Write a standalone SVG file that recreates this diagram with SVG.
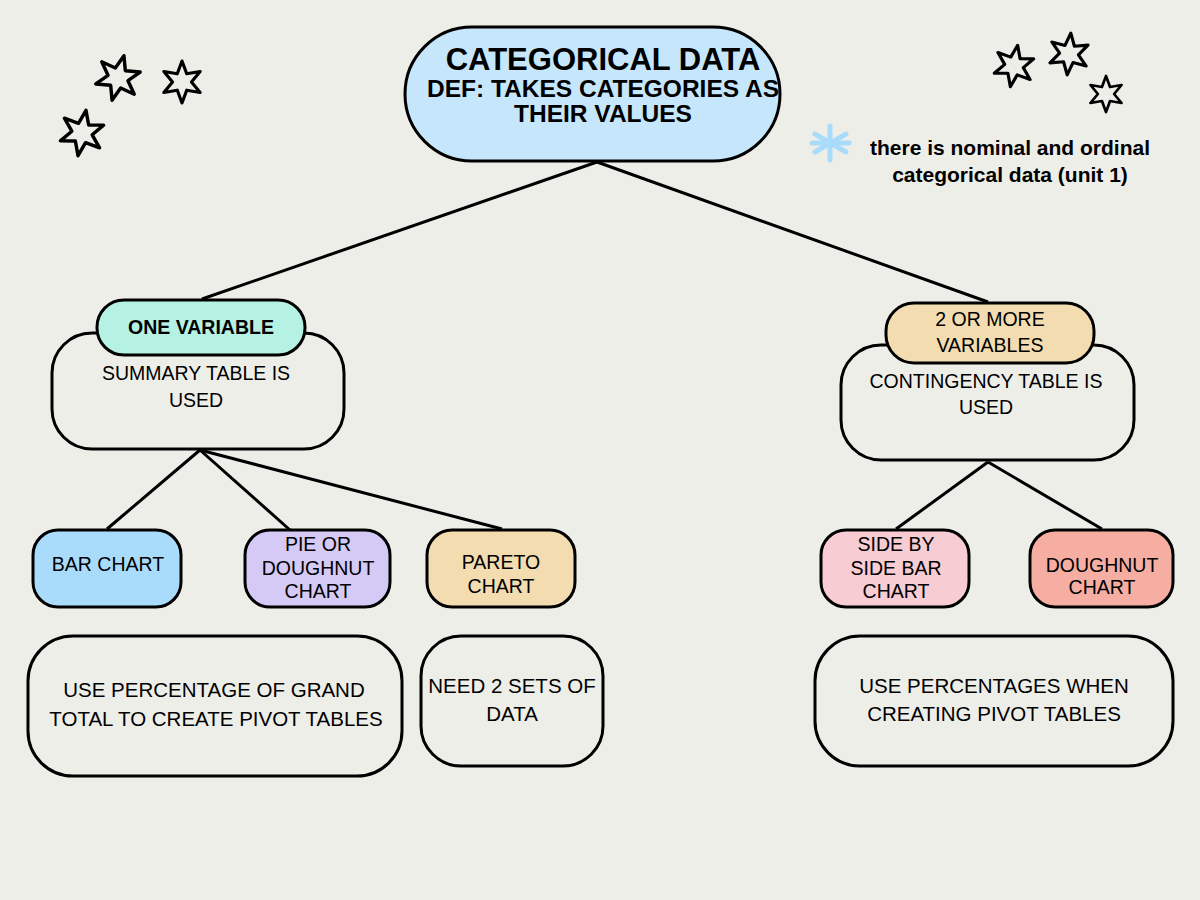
<svg xmlns="http://www.w3.org/2000/svg" width="1200" height="900" viewBox="0 0 1200 900">
<defs>
<style>
.b{stroke:#000;stroke-width:3;}
.t{font-family:"Liberation Sans",Arial,sans-serif;font-size:19.5px;text-anchor:middle;fill:#000;}
.h{font-weight:bold;}
.c{stroke:#000;stroke-width:3;fill:none;}
.s{fill:none;stroke:#000;stroke-width:3;stroke-linejoin:round;}
</style>
<polygon id="star" points="0,-20 4.5,-7.8 17.3,-10 9,0 17.3,10 4.5,7.8 0,20 -4.5,7.8 -17.3,10 -9,0 -17.3,-10 -4.5,-7.8"/>
</defs>
<rect width="1200" height="900" fill="#eeeee9"/>
<g id="stars">
<use href="#star" class="s" transform="translate(118,78) rotate(15) scale(1.15)"/>
<use href="#star" class="s" transform="translate(182,82) scale(1.05)"/>
<use href="#star" class="s" transform="translate(82,133) rotate(10) scale(1.15)"/>
<use href="#star" class="s" transform="translate(1014,66) rotate(10) scale(1.05)"/>
<use href="#star" class="s" transform="translate(1069,54) rotate(5) scale(1.05)"/>
<use href="#star" class="s" transform="translate(1106,94) scale(0.9)"/>
</g>
<g id="asterisk" stroke="#a9dcfb" stroke-width="5" stroke-linecap="round">
<line x1="830" y1="126" x2="830" y2="160"/><line x1="815" y1="134" x2="846" y2="152"/><line x1="815" y1="152" x2="846" y2="134"/><line x1="812" y1="143" x2="849" y2="143"/>
</g>
<g id="connectors">
<line class="c" x1="597" y1="162" x2="202" y2="299"/>
<line class="c" x1="597" y1="162" x2="988" y2="302"/>
<line class="c" x1="200" y1="450" x2="107" y2="529"/>
<line class="c" x1="200" y1="450" x2="290" y2="530"/>
<line class="c" x1="200" y1="450" x2="502" y2="529"/>
<line class="c" x1="988" y1="462" x2="896" y2="529"/>
<line class="c" x1="988" y1="462" x2="1102" y2="529"/>
</g>
<g id="root"><rect class="b" x="405" y="27" width="375" height="134" rx="67" fill="#c5e6fb"/>
<text class="t h" x="603" y="70" style="font-size:31px">CATEGORICAL DATA</text>
<text class="t h" x="603" y="97" style="font-size:24.5px">DEF: TAKES CATEGORIES AS</text>
<text class="t h" x="603" y="122" style="font-size:24.5px">THEIR VALUES</text></g>
<g id="note"><text class="t h" x="1010" y="155" style="font-size:21px">there is nominal and ordinal</text><text class="t h" x="1010" y="182" style="font-size:21px">categorical data (unit 1)</text></g>
<g id="one"><rect class="b" x="52" y="333" width="292" height="116" rx="40" fill="#eeeee9"/>
<rect class="b" x="97" y="300" width="208" height="55" rx="27" fill="#b5f2e3"/>
<text class="t h" x="201" y="334">ONE VARIABLE</text>
<text class="t" x="196" y="380">SUMMARY TABLE IS</text><text class="t" x="196" y="407">USED</text></g>
<g id="two"><rect class="b" x="841" y="345" width="293" height="115" rx="40" fill="#eeeee9"/>
<rect class="b" x="886" y="303" width="208" height="60" rx="28" fill="#f3dcb0"/>
<text class="t" x="990" y="326">2 OR MORE</text><text class="t" x="990" y="352">VARIABLES</text>
<text class="t" x="986" y="388">CONTINGENCY TABLE IS</text><text class="t" x="986" y="414">USED</text></g>
<g id="bar"><rect class="b" x="33" y="530" width="148" height="77" rx="25" fill="#a9dcfb"/><text class="t" x="108" y="571">BAR CHART</text></g>
<g id="pie"><rect class="b" x="245" y="530" width="145" height="77" rx="25" fill="#d5c9f5"/><text class="t" x="318" y="551">PIE OR</text><text class="t" x="318" y="575">DOUGHNUT</text><text class="t" x="318" y="598">CHART</text></g>
<g id="pareto"><rect class="b" x="427" y="530" width="148" height="77" rx="25" fill="#f3dcb0"/><text class="t" x="501" y="569">PARETO</text><text class="t" x="501" y="593">CHART</text></g>
<g id="side"><rect class="b" x="821" y="530" width="148" height="77" rx="25" fill="#f8ccd3"/><text class="t" x="896" y="551">SIDE BY</text><text class="t" x="896" y="575">SIDE BAR</text><text class="t" x="896" y="598">CHART</text></g>
<g id="doughnut"><rect class="b" x="1030" y="530" width="143" height="77" rx="25" fill="#f6aea2"/><text class="t" x="1102" y="572">DOUGHNUT</text><text class="t" x="1102" y="594">CHART</text></g>
<g id="note1"><rect class="b" x="28" y="636" width="374" height="140" rx="45" fill="none"/><text class="t" x="214" y="697" style="font-size:20.5px">USE PERCENTAGE OF GRAND</text><text class="t" x="216" y="726" style="font-size:20.5px">TOTAL TO CREATE PIVOT TABLES</text></g>
<g id="note2"><rect class="b" x="421" y="636" width="182" height="130" rx="40" fill="none"/><text class="t" x="512" y="693" style="font-size:20.5px">NEED 2 SETS OF</text><text class="t" x="512" y="721" style="font-size:20.5px">DATA</text></g>
<g id="note3"><rect class="b" x="815" y="636" width="358" height="130" rx="45" fill="none"/><text class="t" x="994" y="693" style="font-size:20.5px">USE PERCENTAGES WHEN</text><text class="t" x="994" y="721" style="font-size:20.5px">CREATING PIVOT TABLES</text></g>
</svg>
